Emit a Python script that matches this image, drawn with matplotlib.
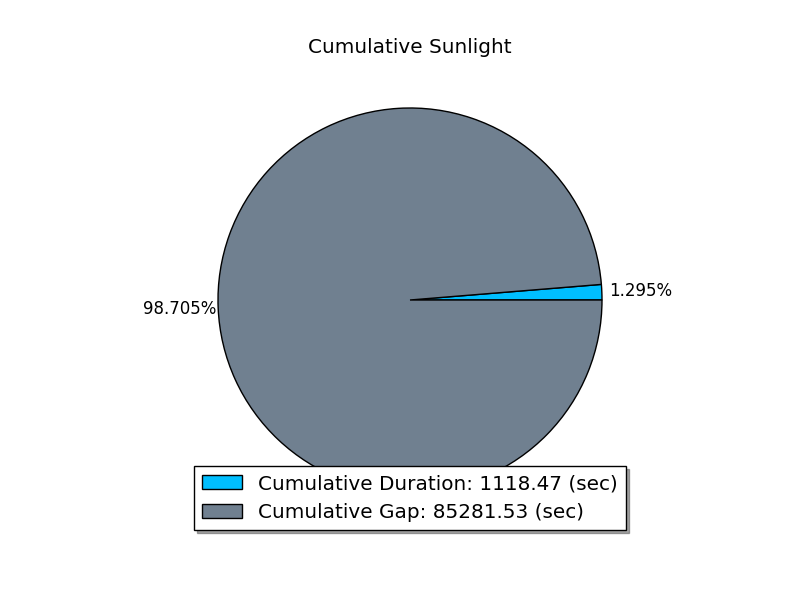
import matplotlib
matplotlib.use("Agg")
import matplotlib.pyplot as plt

plt.style.use("classic")

values = [1118.47, 85281.53]
legend_labels = ["Cumulative Duration: 1118.47 (sec)", "Cumulative Gap: 85281.53 (sec)"]
colors = ["#00BFFF", "#708090"]

fig = plt.figure(figsize=(8, 6), dpi=100)
ax = fig.add_subplot(111)
wedges, texts, autotexts = ax.pie(values, colors=colors, autopct="%1.3f%%", pctdistance=1.2,
                                  wedgeprops=dict(edgecolor="black", linewidth=1))
for t in autotexts:
    t.set_fontsize(12)
ax.set_title("Cumulative Sunlight", fontsize=14.4)
ax.set_xlim(-1.25, 1.25)
ax.set_ylim(-1.25, 1.25)
ax.set_aspect("equal")
ax.legend(wedges, legend_labels, loc="lower center", shadow=True, fontsize=14.4)
fig.savefig("out.png", dpi=100)
